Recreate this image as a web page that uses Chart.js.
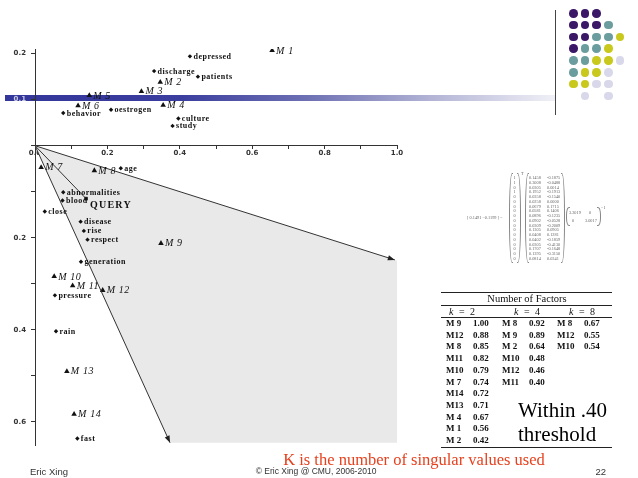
<!DOCTYPE html>
<html>
<head>
<meta charset="utf-8">
<script src="https://cdn.jsdelivr.net/npm/chart.js@4"></script>
<style>
  html, body { margin: 0; padding: 0; background: #fff; }
  #slide { position: relative; width: 638px; height: 478px; overflow: hidden; font-family: 'Liberation Serif', serif; }
  #bar { position: absolute; left: 5px; top: 95px; width: 550px; height: 6px;
         background: linear-gradient(to right, #33369a 0%, #3b3e9e 32%, #6d70b3 55%, #b4b5d6 78%, #f0f0f7 100%); }
  #vline { position: absolute; left: 555px; top: 10px; width: 1px; height: 105px; background: #444; }
  canvas { position: absolute; left: 0; top: 0; }
  .t { position: absolute; white-space: nowrap; line-height: 1; transform: translateY(-50%); }
  .dot { position: absolute; width: 8.5px; height: 8.5px; border-radius: 50%; }
</style>
</head>
<body>
<div id="slide">
  <div id="bar"></div>
  <div id="vline"></div>
  <canvas id="svdPlot" width="638" height="478"></canvas>
</div>
<script>
// documents (triangles) and terms (diamonds) in the 2-d LSI space
const docNames = ['M 1', 'M 2', 'M 3', 'M 4', 'M 5', 'M 6', 'M 7', 'M 8', 'M 9', 'M 10', 'M 11', 'M 12', 'M 13', 'M 14'];
const docX = [0.655, 0.346, 0.294, 0.354, 0.150, 0.119, 0.017, 0.164, 0.348, 0.053, 0.104, 0.187, 0.088, 0.108];
const docY = [0.207, 0.138, 0.118, 0.088, 0.109, 0.087, -0.047, -0.054, -0.212, -0.284, -0.304, -0.314, -0.490, -0.583];

const termNames = ['depressed', 'discharge', 'patients', 'oestrogen', 'behavior', 'culture', 'study', 'age',
  'abnormalities', 'blood', 'close', 'disease', 'rise', 'respect', 'generation', 'pressure', 'rain', 'fast'];
const termX = [0.428, 0.329, 0.450, 0.210, 0.078, 0.396, 0.380, 0.237, 0.078, 0.076, 0.027, 0.126, 0.135, 0.145, 0.127, 0.055, 0.058, 0.117];
const termY = [0.194, 0.162, 0.150, 0.078, 0.071, 0.059, 0.043, -0.049, -0.101, -0.119, -0.143, -0.165, -0.185, -0.204, -0.252, -0.325, -0.403, -0.636];

const queryX = 0.141;
const queryY = -0.115;

// the two edges of the cone around the query, and the shaded region
const coneX = [0.994, 0.373];
const coneY = [-0.248, -0.645];
const shadeX = [0, 0.994, 1.0, 1.0, 0.373];
const shadeY = [0, -0.248, -0.25, -0.645, -0.645];

// table: documents within the cosine threshold
const k2Docs = ['M 9', 'M12', 'M 8', 'M11', 'M10', 'M 7', 'M14', 'M13', 'M 4', 'M 1', 'M 2'];
const k2Vals = ['1.00', '0.88', '0.85', '0.82', '0.79', '0.74', '0.72', '0.71', '0.67', '0.56', '0.42'];
const k4Docs = ['M 8', 'M 9', 'M 2', 'M10', 'M12', 'M11'];
const k4Vals = ['0.92', '0.89', '0.64', '0.48', '0.46', '0.40'];
const k8Docs = ['M 8', 'M12', 'M10'];
const k8Vals = ['0.67', '0.55', '0.54'];

// query projection formula
const queryVec = ['1', '1', '0', '1', '0', '0', '0', '0', '0', '0', '0', '0', '0', '0', '0', '0', '0', '0'];
const uCol1 = ['0.1458', '0.3008', '0.0305', '0.1952', '0.0358', '0.0258', '0.0679', '0.0581', '0.0896', '0.0902', '0.0309', '0.1305', '0.0408', '0.0402', '0.0305', '0.1707', '0.1395', '0.0814'];
const uCol2 = ['-0.1875', '-0.0488', '0.0014', '-0.1913', '-0.1540', '0.0000', '0.1715', '0.1406', '-0.1235', '-0.0528', '-0.2009', '0.0905', '0.1281', '-0.1859', '-0.4130', '-0.1648', '-0.3150', '0.0341'];

const slide = document.getElementById('slide');
function txt(s, x, y, css) {
  const d = document.createElement('div');
  d.className = 't';
  d.textContent = s;
  d.style.left = x + 'px';
  d.style.top = y + 'px';
  if (css) d.style.cssText += css;
  slide.appendChild(d);
  return d;
}
function box(x, y, w, h, css) {
  const d = document.createElement('div');
  d.style.cssText = 'position:absolute;left:' + x + 'px;top:' + y + 'px;width:' + w + 'px;height:' + h + 'px;' + css;
  slide.appendChild(d);
}

// template dots, top right
const dotRows = ['PPP', 'PPPT', 'PPTTY', 'PTTY', 'TTYYL', 'TYYL', 'YYLL', '.L.L'];
const dotColors = { P: '#3b1768', T: '#6b9d9e', Y: '#c9c81c', L: '#d8d8ea' };
dotRows.forEach((row, i) => {
  [...row].forEach((c, j) => {
    if (c === '.') return;
    const d = document.createElement('div');
    d.className = 'dot';
    d.style.left = (569 + 11.7 * j) + 'px';
    d.style.top = (9 + 11.8 * i) + 'px';
    d.style.background = dotColors[c];
    slide.appendChild(d);
  });
});

// table
const tf = 'font:bold 9px "Liberation Serif";color:#111;';
box(441, 292, 171, 1.2, 'background:#222');
txt('Number of Factors', 527, 298, 'font:10.5px "Liberation Serif";color:#111;transform:translate(-50%,-50%)');
box(441, 305, 171, 0.8, 'background:#222');
['2', '4', '8'].forEach((k, i) => {
  txt('', [462, 527, 582][i], 311, 'font:10px "Liberation Serif";color:#111;transform:translate(-50%,-50%);word-spacing:3px')
    .innerHTML = '<i>k</i> = ' + k;
});
box(441, 317, 171, 0.8, 'background:#222');
[[k2Docs, k2Vals, 446], [k4Docs, k4Vals, 502], [k8Docs, k8Vals, 557]].forEach(([docs, vals, x0]) => {
  docs.forEach((d, i) => {
    txt(d, x0, 323 + 11.7 * i, tf);
    txt(vals[i], x0 + 27, 323 + 11.7 * i, tf);
  });
});
box(441, 447, 171, 1.4, 'background:#222');
txt('Within .40', 518, 410, 'font:21px "Liberation Serif";color:#000');
txt('threshold', 518, 434, 'font:21px "Liberation Serif";color:#000');

// formula
const mf = 'font:4.3px "Liberation Serif";color:#666;';
txt('[ 0.1491   \u22120.1199 ] =', 467, 217, mf);
box(509, 173, 3, 88, 'border:0.8px solid #888;border-right:none;border-radius:3px 0 0 3px/40px 0 0 40px');
box(517, 173, 3, 88, 'border:0.8px solid #888;border-left:none;border-radius:0 3px 3px 0/0 40px 40px 0');
txt('T', 521, 173, mf);
box(525, 173, 3, 88, 'border:0.8px solid #888;border-right:none;border-radius:3px 0 0 3px/40px 0 0 40px');
box(561, 173, 3, 88, 'border:0.8px solid #888;border-left:none;border-radius:0 3px 3px 0/0 40px 40px 0');
queryVec.forEach((v, i) => {
  const y = 177 + 4.75 * i;
  txt(v, 513.5, y, mf);
  txt(uCol1[i], 529, y, mf);
  txt(uCol2[i], 547, y, mf);
});
box(566, 207, 3, 17, 'border:0.8px solid #888;border-right:none;border-radius:3px 0 0 3px/8px 0 0 8px');
box(597, 207, 3, 17, 'border:0.8px solid #888;border-left:none;border-radius:0 3px 3px 0/0 8px 8px 0');
txt('3.2019', 569, 212, mf);
txt('0', 589, 212, mf);
txt('0', 572, 219.5, mf);
txt('3.0017', 585, 219.5, mf);
txt('\u22121', 601, 207, mf);

// captions and footer
txt('K is the number of singular values used', 414, 460, 'font:16.5px "Liberation Serif";color:#e6411e;transform:translate(-50%,-50%)');
txt('Eric Xing', 30, 471, 'font:9.5px "Liberation Sans";color:#333');
txt('\u00a9 Eric Xing @ CMU, 2006-2010', 316, 471, 'font:8.5px "Liberation Sans";color:#333;transform:translate(-50%,-50%)');
txt('22', 606, 471, 'font:9.5px "Liberation Sans";color:#333;transform:translate(-100%,-50%)');

// chart
const shadePlugin = {
  id: 'shade',
  beforeDatasetsDraw(chart) {
    const { ctx, scales: { x, y } } = chart;
    ctx.save();
    ctx.beginPath();
    shadeX.forEach((v, i) => {
      const px = x.getPixelForValue(v), py = y.getPixelForValue(shadeY[i]);
      if (i === 0) ctx.moveTo(px, py); else ctx.lineTo(px, py);
    });
    ctx.closePath();
    ctx.fillStyle = '#e9e9e9';
    ctx.fill();
    ctx.restore();
  }
};

const arrowPlugin = {
  id: 'arrows',
  afterDatasetsDraw(chart) {
    const ctx = chart.ctx;
    chart.data.datasets.forEach((ds, i) => {
      if (!ds.arrow) return;
      const pts = chart.getDatasetMeta(i).data;
      const a = pts[0], b = pts[pts.length - 1];
      const ang = Math.atan2(b.y - a.y, b.x - a.x);
      ctx.save();
      ctx.translate(b.x, b.y);
      ctx.rotate(ang);
      ctx.beginPath();
      ctx.moveTo(0, 0);
      ctx.lineTo(-7, -2.6);
      ctx.lineTo(-7, 2.6);
      ctx.closePath();
      ctx.fillStyle = '#222';
      ctx.fill();
      ctx.restore();
    });
  }
};

const labelPlugin = {
  id: 'pointLabels',
  afterDatasetsDraw(chart) {
    const ctx = chart.ctx;
    chart.data.datasets.forEach((ds, i) => {
      if (!ds.pointLabels) return;
      const meta = chart.getDatasetMeta(i);
      ctx.save();
      ctx.font = ds.labelFont;
      ctx.letterSpacing = ds.labelSpacing || '0px';
      ctx.fillStyle = '#111';
      ctx.textBaseline = 'middle';
      meta.data.forEach((pt, j) => {
        if (ds.pointLabels[j]) ctx.fillText(ds.pointLabels[j], pt.x + ds.labelDx, pt.y + ds.labelDy);
      });
      ctx.restore();
    });
  }
};

const toPts = (xs, ys) => xs.map((v, i) => ({ x: v, y: ys[i] }));
const tickFont = { family: 'DejaVu Sans', size: 7, weight: 'bold' };

new Chart(document.getElementById('svdPlot'), {
  type: 'scatter',
  data: {
    datasets: [
      {
        data: [{ x: 0, y: 0 }, { x: coneX[0], y: coneY[0] }],
        showLine: true, borderColor: '#333', borderWidth: 1, pointRadius: 0, arrow: true
      },
      {
        data: [{ x: 0, y: 0 }, { x: coneX[1], y: coneY[1] }],
        showLine: true, borderColor: '#333', borderWidth: 1, pointRadius: 0, arrow: true
      },
      {
        data: [{ x: 0, y: 0 }, { x: queryX, y: queryY }],
        showLine: true, borderColor: '#333', borderWidth: 1,
        pointRadius: [0, 2], pointStyle: 'rect', backgroundColor: '#111',
        pointLabels: ['', 'QUERY'], labelFont: 'bold 10px "Liberation Serif"', labelSpacing: '1.2px',
        labelDx: 4, labelDy: 7
      },
      {
        data: toPts(termX, termY),
        pointStyle: 'rectRot', pointRadius: 2.2, backgroundColor: '#111', borderWidth: 0,
        pointLabels: termNames, labelFont: 'bold 8px "Liberation Serif"', labelSpacing: '0.5px',
        labelDx: 3.5, labelDy: 0.5
      },
      {
        data: toPts(docX, docY),
        pointStyle: 'triangle', pointRadius: 3.2, backgroundColor: '#111', borderWidth: 0,
        pointLabels: docNames, labelFont: 'italic 10px "Liberation Serif"', labelSpacing: '0.6px',
        labelDx: 4, labelDy: 0.5
      }
    ]
  },
  options: {
    responsive: false,
    animation: false,
    events: [],
    layout: { padding: { left: 0, top: 49, right: 241, bottom: 33 } },
    plugins: { legend: { display: false }, tooltip: { enabled: false } },
    scales: {
      x: {
        type: 'linear',
        position: { y: 0 },
        min: 0, max: 1,
        ticks: {
          stepSize: 0.1, includeBounds: false, padding: 0, color: '#333', font: tickFont, maxRotation: 0, autoSkip: false,
          callback: v => { const n = Math.round(v * 10); return n % 2 === 0 ? (n / 10).toFixed(1) : ''; }
        },
        grid: { drawOnChartArea: false, tickLength: 3, color: '#333' },
        border: { color: '#333', width: 1 }
      },
      y: {
        type: 'linear',
        position: 'left',
        min: -0.65, max: 0.21,
        afterFit: s => { s.width = 35; },
        ticks: {
          stepSize: 0.1, includeBounds: false, padding: 5, font: tickFont, autoSkip: false,
          color: c => (c.tick && Math.round(c.tick.value * 10) === 1) ? '#c9c9e2' : '#333',
          callback: v => {
            const n = Math.round(v * 10);
            if (n === 0 || (n < 0 && n % 2 !== 0)) return '';
            return Math.abs(n / 10).toFixed(1);
          }
        },
        grid: { drawOnChartArea: false, tickLength: 4, color: '#333' },
        border: { color: '#333', width: 1 }
      }
    }
  },
  plugins: [shadePlugin, arrowPlugin, labelPlugin]
});
</script>
</body>
</html>
